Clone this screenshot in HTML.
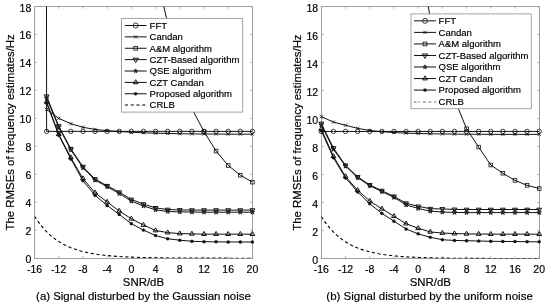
<!DOCTYPE html>
<html><head><meta charset="utf-8"><title>RMSE vs SNR</title>
<style>
html,body{margin:0;padding:0;background:#fff;width:550px;height:307px;overflow:hidden}
svg{display:block}
text{font-family:"Liberation Sans",Arial,Helvetica,sans-serif;fill:#000;stroke:#000;stroke-width:0.18px}
.tk{font-size:10.5px}
.lg{font-size:9.5px}
.al{font-size:11.4px}
</style></head><body>
<svg width="550" height="307" viewBox="0 0 550 307">
<rect width="550" height="307" fill="#fff"/>
<clipPath id="clipL"><rect x="34.5" y="6.5" width="217.9" height="251.7"/></clipPath>
<rect x="34.5" y="6.5" width="218.00" height="252.00" fill="none" stroke="#a0a0a0" stroke-width="1"/><path d="M34.50,258.5v-2.2M34.50,6.5v2.2M58.71,258.5v-2.2M58.71,6.5v2.2M82.92,258.5v-2.2M82.92,6.5v2.2M107.13,258.5v-2.2M107.13,6.5v2.2M131.34,258.5v-2.2M131.34,6.5v2.2M155.56,258.5v-2.2M155.56,6.5v2.2M179.77,258.5v-2.2M179.77,6.5v2.2M203.98,258.5v-2.2M203.98,6.5v2.2M228.19,258.5v-2.2M228.19,6.5v2.2M252.40,258.5v-2.2M252.40,6.5v2.2M34.5,258.20h2.2M252.5,258.20h-2.2M34.5,230.23h2.2M252.5,230.23h-2.2M34.5,202.27h2.2M252.5,202.27h-2.2M34.5,174.30h2.2M252.5,174.30h-2.2M34.5,146.33h2.2M252.5,146.33h-2.2M34.5,118.37h2.2M252.5,118.37h-2.2M34.5,90.40h2.2M252.5,90.40h-2.2M34.5,62.43h2.2M252.5,62.43h-2.2M34.5,34.47h2.2M252.5,34.47h-2.2M34.5,6.50h2.2M252.5,6.50h-2.2" stroke="#a0a0a0" stroke-width="0.9" fill="none"/>
<g clip-path="url(#clipL)"><polyline points="34.50,216.25 37.53,220.81 40.55,224.88 43.58,228.50 46.61,231.73 49.63,234.61 52.66,237.18 55.68,239.46 58.71,241.50 61.74,243.32 64.76,244.93 67.79,246.38 70.82,247.66 73.84,248.81 76.87,249.83 79.90,250.74 82.92,251.55 85.95,252.27 88.97,252.92 92.00,253.49 95.03,254.00 98.05,254.46 101.08,254.87 104.11,255.23 107.13,255.55 110.16,255.84 113.19,256.10 116.21,256.33 119.24,256.53 122.27,256.71 125.29,256.87 128.32,257.02 131.34,257.15 134.37,257.26 137.40,257.36 140.42,257.45 143.45,257.54 146.48,257.61 149.50,257.67 152.53,257.73 155.56,257.78 158.58,257.83 161.61,257.87 164.63,257.90 167.66,257.94 170.69,257.96 173.71,257.99 176.74,258.01 179.77,258.03 182.79,258.05 185.82,258.07 188.85,258.08 191.87,258.09 194.90,258.11 197.93,258.12 200.95,258.13 203.98,258.13 207.00,258.14 210.03,258.15 213.06,258.15 216.08,258.16 219.11,258.16 222.14,258.17 225.16,258.17 228.19,258.17 231.22,258.18 234.24,258.18 237.27,258.18 240.29,258.18 243.32,258.19 246.35,258.19 249.37,258.19 252.40,258.19" fill="none" stroke="#000" stroke-width="1.1" stroke-dasharray="3.2,2.6"/><polyline points="34.50,-13725.13 46.61,131.37 58.71,131.37 70.82,131.37 82.92,131.37 95.03,131.37 107.13,131.37 119.24,131.37 131.34,131.37 143.45,131.37 155.56,131.37 167.66,131.37 179.77,131.37 191.87,131.37 203.98,131.37 216.08,131.37 228.19,131.37 240.29,131.37 252.40,131.37" fill="none" stroke="#111" stroke-width="1.0"/><polyline points="46.61,109.42 58.71,118.37 70.82,123.68 82.92,127.32 95.03,129.41 107.13,130.67 119.24,131.51 131.34,132.21 143.45,132.77 155.56,133.19 167.66,133.47 179.77,133.75 191.87,133.89 203.98,134.03 216.08,134.03 228.19,134.17 240.29,134.17 252.40,134.17" fill="none" stroke="#111" stroke-width="1.0"/><polyline points="143.45,-105.37 155.56,-29.86 167.66,23.28 179.77,69.43 191.87,108.58 203.98,131.51 216.08,151.09 228.19,165.49 240.29,175.14 252.40,182.13" fill="none" stroke="#111" stroke-width="1.0"/><polyline points="46.61,96.27 58.71,126.06 70.82,148.71 82.92,166.61 95.03,179.05 107.13,185.77 119.24,192.20 131.34,199.47 143.45,204.08 155.56,207.86 167.66,209.54 179.77,209.96 191.87,210.10 203.98,210.10 216.08,210.10 228.19,210.10 240.29,210.10 252.40,210.10" fill="none" stroke="#111" stroke-width="1.0"/><polyline points="46.61,98.09 58.71,127.04 70.82,149.83 82.92,167.73 95.03,180.03 107.13,186.75 119.24,193.60 131.34,201.15 143.45,205.90 155.56,209.82 167.66,211.50 179.77,211.92 191.87,212.06 203.98,212.19 216.08,212.19 228.19,212.19 240.29,212.19 252.40,212.19" fill="none" stroke="#111" stroke-width="1.0"/><polyline points="46.61,101.87 58.71,134.17 70.82,157.52 82.92,178.50 95.03,192.76 107.13,201.99 119.24,210.94 131.34,218.77 143.45,225.06 155.56,230.51 167.66,232.61 179.77,233.59 191.87,233.87 203.98,234.15 216.08,234.15 228.19,234.15 240.29,234.15 252.40,234.15" fill="none" stroke="#111" stroke-width="1.0"/><polyline points="46.61,102.98 58.71,135.15 70.82,158.92 82.92,180.73 95.03,195.28 107.13,205.48 119.24,214.43 131.34,223.66 143.45,230.09 155.56,235.55 167.66,238.76 179.77,240.16 191.87,241.28 203.98,241.70 216.08,241.84 228.19,241.98 240.29,241.98 252.40,241.98" fill="none" stroke="#111" stroke-width="1.0"/></g>
<circle cx="46.61" cy="131.37" r="2.20" fill="none" stroke="#111" stroke-width="0.8"/><circle cx="58.71" cy="131.37" r="2.20" fill="none" stroke="#111" stroke-width="0.8"/><circle cx="70.82" cy="131.37" r="2.20" fill="none" stroke="#111" stroke-width="0.8"/><circle cx="82.92" cy="131.37" r="2.20" fill="none" stroke="#111" stroke-width="0.8"/><circle cx="95.03" cy="131.37" r="2.20" fill="none" stroke="#111" stroke-width="0.8"/><circle cx="107.13" cy="131.37" r="2.20" fill="none" stroke="#111" stroke-width="0.8"/><circle cx="119.24" cy="131.37" r="2.20" fill="none" stroke="#111" stroke-width="0.8"/><circle cx="131.34" cy="131.37" r="2.20" fill="none" stroke="#111" stroke-width="0.8"/><circle cx="143.45" cy="131.37" r="2.20" fill="none" stroke="#111" stroke-width="0.8"/><circle cx="155.56" cy="131.37" r="2.20" fill="none" stroke="#111" stroke-width="0.8"/><circle cx="167.66" cy="131.37" r="2.20" fill="none" stroke="#111" stroke-width="0.8"/><circle cx="179.77" cy="131.37" r="2.20" fill="none" stroke="#111" stroke-width="0.8"/><circle cx="191.87" cy="131.37" r="2.20" fill="none" stroke="#111" stroke-width="0.8"/><circle cx="203.98" cy="131.37" r="2.20" fill="none" stroke="#111" stroke-width="0.8"/><circle cx="216.08" cy="131.37" r="2.20" fill="none" stroke="#111" stroke-width="0.8"/><circle cx="228.19" cy="131.37" r="2.20" fill="none" stroke="#111" stroke-width="0.8"/><circle cx="240.29" cy="131.37" r="2.20" fill="none" stroke="#111" stroke-width="0.8"/><circle cx="252.40" cy="131.37" r="2.20" fill="none" stroke="#111" stroke-width="0.8"/><path d="M45.01,107.82L48.21,111.02M45.01,111.02L48.21,107.82" stroke="#111" stroke-width="0.8" fill="none"/><path d="M57.11,116.77L60.31,119.97M57.11,119.97L60.31,116.77" stroke="#111" stroke-width="0.8" fill="none"/><path d="M69.22,122.08L72.42,125.28M69.22,125.28L72.42,122.08" stroke="#111" stroke-width="0.8" fill="none"/><path d="M81.32,125.72L84.52,128.92M81.32,128.92L84.52,125.72" stroke="#111" stroke-width="0.8" fill="none"/><path d="M93.43,127.81L96.63,131.01M93.43,131.01L96.63,127.81" stroke="#111" stroke-width="0.8" fill="none"/><path d="M105.53,129.07L108.73,132.27M105.53,132.27L108.73,129.07" stroke="#111" stroke-width="0.8" fill="none"/><path d="M117.64,129.91L120.84,133.11M117.64,133.11L120.84,129.91" stroke="#111" stroke-width="0.8" fill="none"/><path d="M129.74,130.61L132.94,133.81M129.74,133.81L132.94,130.61" stroke="#111" stroke-width="0.8" fill="none"/><path d="M141.85,131.17L145.05,134.37M141.85,134.37L145.05,131.17" stroke="#111" stroke-width="0.8" fill="none"/><path d="M153.96,131.59L157.16,134.79M153.96,134.79L157.16,131.59" stroke="#111" stroke-width="0.8" fill="none"/><path d="M166.06,131.87L169.26,135.07M166.06,135.07L169.26,131.87" stroke="#111" stroke-width="0.8" fill="none"/><path d="M178.17,132.15L181.37,135.35M178.17,135.35L181.37,132.15" stroke="#111" stroke-width="0.8" fill="none"/><path d="M190.27,132.29L193.47,135.49M190.27,135.49L193.47,132.29" stroke="#111" stroke-width="0.8" fill="none"/><path d="M202.38,132.43L205.58,135.63M202.38,135.63L205.58,132.43" stroke="#111" stroke-width="0.8" fill="none"/><path d="M214.48,132.43L217.68,135.63M214.48,135.63L217.68,132.43" stroke="#111" stroke-width="0.8" fill="none"/><path d="M226.59,132.57L229.79,135.77M226.59,135.77L229.79,132.57" stroke="#111" stroke-width="0.8" fill="none"/><path d="M238.69,132.57L241.89,135.77M238.69,135.77L241.89,132.57" stroke="#111" stroke-width="0.8" fill="none"/><path d="M250.80,132.57L254.00,135.77M250.80,135.77L254.00,132.57" stroke="#111" stroke-width="0.8" fill="none"/><rect x="165.86" y="21.48" width="3.60" height="3.60" fill="none" stroke="#111" stroke-width="0.8"/><rect x="177.97" y="67.63" width="3.60" height="3.60" fill="none" stroke="#111" stroke-width="0.8"/><rect x="190.07" y="106.78" width="3.60" height="3.60" fill="none" stroke="#111" stroke-width="0.8"/><rect x="202.18" y="129.71" width="3.60" height="3.60" fill="none" stroke="#111" stroke-width="0.8"/><rect x="214.28" y="149.29" width="3.60" height="3.60" fill="none" stroke="#111" stroke-width="0.8"/><rect x="226.39" y="163.69" width="3.60" height="3.60" fill="none" stroke="#111" stroke-width="0.8"/><rect x="238.49" y="173.34" width="3.60" height="3.60" fill="none" stroke="#111" stroke-width="0.8"/><rect x="250.60" y="180.33" width="3.60" height="3.60" fill="none" stroke="#111" stroke-width="0.8"/><path d="M44.21,94.94L49.01,94.94L46.61,98.94Z" fill="none" stroke="#111" stroke-width="1.0"/><path d="M56.31,124.72L61.11,124.72L58.71,128.72Z" fill="none" stroke="#111" stroke-width="1.0"/><path d="M68.42,147.38L73.22,147.38L70.82,151.38Z" fill="none" stroke="#111" stroke-width="1.0"/><path d="M80.52,165.28L85.32,165.28L82.92,169.28Z" fill="none" stroke="#111" stroke-width="1.0"/><path d="M92.63,177.72L97.43,177.72L95.03,181.72Z" fill="none" stroke="#111" stroke-width="1.0"/><path d="M104.73,184.43L109.53,184.43L107.13,188.43Z" fill="none" stroke="#111" stroke-width="1.0"/><path d="M116.84,190.87L121.64,190.87L119.24,194.87Z" fill="none" stroke="#111" stroke-width="1.0"/><path d="M128.94,198.14L133.74,198.14L131.34,202.14Z" fill="none" stroke="#111" stroke-width="1.0"/><path d="M141.05,202.75L145.85,202.75L143.45,206.75Z" fill="none" stroke="#111" stroke-width="1.0"/><path d="M153.16,206.53L157.96,206.53L155.56,210.53Z" fill="none" stroke="#111" stroke-width="1.0"/><path d="M165.26,208.20L170.06,208.20L167.66,212.20Z" fill="none" stroke="#111" stroke-width="1.0"/><path d="M177.37,208.62L182.17,208.62L179.77,212.62Z" fill="none" stroke="#111" stroke-width="1.0"/><path d="M189.47,208.76L194.27,208.76L191.87,212.76Z" fill="none" stroke="#111" stroke-width="1.0"/><path d="M201.58,208.76L206.38,208.76L203.98,212.76Z" fill="none" stroke="#111" stroke-width="1.0"/><path d="M213.68,208.76L218.48,208.76L216.08,212.76Z" fill="none" stroke="#111" stroke-width="1.0"/><path d="M225.79,208.76L230.59,208.76L228.19,212.76Z" fill="none" stroke="#111" stroke-width="1.0"/><path d="M237.89,208.76L242.69,208.76L240.29,212.76Z" fill="none" stroke="#111" stroke-width="1.0"/><path d="M250.00,208.76L254.80,208.76L252.40,212.76Z" fill="none" stroke="#111" stroke-width="1.0"/><polygon points="46.61,95.59 47.25,97.20 48.98,97.32 47.65,98.43 48.08,100.11 46.61,99.19 45.14,100.11 45.56,98.43 44.23,97.32 45.96,97.20" fill="#333" stroke="#111" stroke-width="0.6"/><polygon points="58.71,124.54 59.36,126.15 61.09,126.26 59.76,127.38 60.18,129.06 58.71,128.14 57.24,129.06 57.66,127.38 56.33,126.26 58.06,126.15" fill="#333" stroke="#111" stroke-width="0.6"/><polygon points="70.82,147.33 71.46,148.94 73.19,149.06 71.86,150.17 72.29,151.85 70.82,150.93 69.35,151.85 69.77,150.17 68.44,149.06 70.17,148.94" fill="#333" stroke="#111" stroke-width="0.6"/><polygon points="82.92,165.23 83.57,166.84 85.30,166.96 83.97,168.07 84.39,169.75 82.92,168.83 81.45,169.75 81.88,168.07 80.54,166.96 82.28,166.84" fill="#333" stroke="#111" stroke-width="0.6"/><polygon points="95.03,177.53 95.67,179.14 97.41,179.26 96.07,180.37 96.50,182.06 95.03,181.13 93.56,182.06 93.98,180.37 92.65,179.26 94.38,179.14" fill="#333" stroke="#111" stroke-width="0.6"/><polygon points="107.13,184.25 107.78,185.86 109.51,185.97 108.18,187.09 108.60,188.77 107.13,187.85 105.66,188.77 106.09,187.09 104.76,185.97 106.49,185.86" fill="#333" stroke="#111" stroke-width="0.6"/><polygon points="119.24,191.10 119.89,192.71 121.62,192.82 120.29,193.94 120.71,195.62 119.24,194.70 117.77,195.62 118.19,193.94 116.86,192.82 118.59,192.71" fill="#333" stroke="#111" stroke-width="0.6"/><polygon points="131.34,198.65 131.99,200.26 133.72,200.38 132.39,201.49 132.81,203.17 131.34,202.25 129.87,203.17 130.30,201.49 128.97,200.38 130.70,200.26" fill="#333" stroke="#111" stroke-width="0.6"/><polygon points="143.45,203.40 144.10,205.01 145.83,205.13 144.50,206.24 144.92,207.92 143.45,207.00 141.98,207.92 142.40,206.24 141.07,205.13 142.80,205.01" fill="#333" stroke="#111" stroke-width="0.6"/><polygon points="155.56,207.32 156.20,208.93 157.93,209.05 156.60,210.16 157.03,211.84 155.56,210.92 154.09,211.84 154.51,210.16 153.18,209.05 154.91,208.93" fill="#333" stroke="#111" stroke-width="0.6"/><polygon points="167.66,209.00 168.31,210.61 170.04,210.72 168.71,211.84 169.13,213.52 167.66,212.60 166.19,213.52 166.61,211.84 165.28,210.72 167.01,210.61" fill="#333" stroke="#111" stroke-width="0.6"/><polygon points="179.77,209.42 180.41,211.03 182.14,211.14 180.81,212.26 181.24,213.94 179.77,213.02 178.30,213.94 178.72,212.26 177.39,211.14 179.12,211.03" fill="#333" stroke="#111" stroke-width="0.6"/><polygon points="191.87,209.56 192.52,211.17 194.25,211.28 192.92,212.39 193.34,214.08 191.87,213.16 190.40,214.08 190.83,212.39 189.49,211.28 191.23,211.17" fill="#333" stroke="#111" stroke-width="0.6"/><polygon points="203.98,209.69 204.62,211.30 206.36,211.42 205.02,212.53 205.45,214.22 203.98,213.29 202.51,214.22 202.93,212.53 201.60,211.42 203.33,211.30" fill="#333" stroke="#111" stroke-width="0.6"/><polygon points="216.08,209.69 216.73,211.30 218.46,211.42 217.13,212.53 217.55,214.22 216.08,213.29 214.61,214.22 215.04,212.53 213.71,211.42 215.44,211.30" fill="#333" stroke="#111" stroke-width="0.6"/><polygon points="228.19,209.69 228.84,211.30 230.57,211.42 229.24,212.53 229.66,214.22 228.19,213.29 226.72,214.22 227.14,212.53 225.81,211.42 227.54,211.30" fill="#333" stroke="#111" stroke-width="0.6"/><polygon points="240.29,209.69 240.94,211.30 242.67,211.42 241.34,212.53 241.76,214.22 240.29,213.29 238.82,214.22 239.25,212.53 237.92,211.42 239.65,211.30" fill="#333" stroke="#111" stroke-width="0.6"/><polygon points="252.40,209.69 253.05,211.30 254.78,211.42 253.45,212.53 253.87,214.22 252.40,213.29 250.93,214.22 251.35,212.53 250.02,211.42 251.75,211.30" fill="#333" stroke="#111" stroke-width="0.6"/><path d="M44.21,103.20L49.01,103.20L46.61,99.20Z" fill="none" stroke="#111" stroke-width="1.0"/><path d="M56.31,135.50L61.11,135.50L58.71,131.50Z" fill="none" stroke="#111" stroke-width="1.0"/><path d="M68.42,158.85L73.22,158.85L70.82,154.85Z" fill="none" stroke="#111" stroke-width="1.0"/><path d="M80.52,179.83L85.32,179.83L82.92,175.83Z" fill="none" stroke="#111" stroke-width="1.0"/><path d="M92.63,194.09L97.43,194.09L95.03,190.09Z" fill="none" stroke="#111" stroke-width="1.0"/><path d="M104.73,203.32L109.53,203.32L107.13,199.32Z" fill="none" stroke="#111" stroke-width="1.0"/><path d="M116.84,212.27L121.64,212.27L119.24,208.27Z" fill="none" stroke="#111" stroke-width="1.0"/><path d="M128.94,220.10L133.74,220.10L131.34,216.10Z" fill="none" stroke="#111" stroke-width="1.0"/><path d="M141.05,226.39L145.85,226.39L143.45,222.39Z" fill="none" stroke="#111" stroke-width="1.0"/><path d="M153.16,231.85L157.96,231.85L155.56,227.85Z" fill="none" stroke="#111" stroke-width="1.0"/><path d="M165.26,233.94L170.06,233.94L167.66,229.94Z" fill="none" stroke="#111" stroke-width="1.0"/><path d="M177.37,234.92L182.17,234.92L179.77,230.92Z" fill="none" stroke="#111" stroke-width="1.0"/><path d="M189.47,235.20L194.27,235.20L191.87,231.20Z" fill="none" stroke="#111" stroke-width="1.0"/><path d="M201.58,235.48L206.38,235.48L203.98,231.48Z" fill="none" stroke="#111" stroke-width="1.0"/><path d="M213.68,235.48L218.48,235.48L216.08,231.48Z" fill="none" stroke="#111" stroke-width="1.0"/><path d="M225.79,235.48L230.59,235.48L228.19,231.48Z" fill="none" stroke="#111" stroke-width="1.0"/><path d="M237.89,235.48L242.69,235.48L240.29,231.48Z" fill="none" stroke="#111" stroke-width="1.0"/><path d="M250.00,235.48L254.80,235.48L252.40,231.48Z" fill="none" stroke="#111" stroke-width="1.0"/><circle cx="46.61" cy="102.98" r="1.50" fill="#111"/><path d="M46.61,101.18V104.78M44.81,102.98H48.41M45.35,101.72L47.87,104.24M45.35,104.24L47.87,101.72" stroke="#111" stroke-width="0.6" fill="none"/><circle cx="58.71" cy="135.15" r="1.50" fill="#111"/><path d="M58.71,133.35V136.95M56.91,135.15H60.51M57.45,133.89L59.97,136.41M57.45,136.41L59.97,133.89" stroke="#111" stroke-width="0.6" fill="none"/><circle cx="70.82" cy="158.92" r="1.50" fill="#111"/><path d="M70.82,157.12V160.72M69.02,158.92H72.62M69.56,157.66L72.08,160.18M69.56,160.18L72.08,157.66" stroke="#111" stroke-width="0.6" fill="none"/><circle cx="82.92" cy="180.73" r="1.50" fill="#111"/><path d="M82.92,178.93V182.53M81.12,180.73H84.72M81.66,179.47L84.18,181.99M81.66,181.99L84.18,179.47" stroke="#111" stroke-width="0.6" fill="none"/><circle cx="95.03" cy="195.28" r="1.50" fill="#111"/><path d="M95.03,193.47V197.08M93.23,195.28H96.83M93.77,194.02L96.29,196.53M93.77,196.53L96.29,194.02" stroke="#111" stroke-width="0.6" fill="none"/><circle cx="107.13" cy="205.48" r="1.50" fill="#111"/><path d="M107.13,203.68V207.28M105.33,205.48H108.93M105.87,204.22L108.39,206.74M105.87,206.74L108.39,204.22" stroke="#111" stroke-width="0.6" fill="none"/><circle cx="119.24" cy="214.43" r="1.50" fill="#111"/><path d="M119.24,212.63V216.23M117.44,214.43H121.04M117.98,213.17L120.50,215.69M117.98,215.69L120.50,213.17" stroke="#111" stroke-width="0.6" fill="none"/><circle cx="131.34" cy="223.66" r="1.50" fill="#111"/><path d="M131.34,221.86V225.46M129.54,223.66H133.14M130.08,222.40L132.60,224.92M130.08,224.92L132.60,222.40" stroke="#111" stroke-width="0.6" fill="none"/><circle cx="143.45" cy="230.09" r="1.50" fill="#111"/><path d="M143.45,228.29V231.89M141.65,230.09H145.25M142.19,228.83L144.71,231.35M142.19,231.35L144.71,228.83" stroke="#111" stroke-width="0.6" fill="none"/><circle cx="155.56" cy="235.55" r="1.50" fill="#111"/><path d="M155.56,233.75V237.35M153.76,235.55H157.36M154.30,234.29L156.82,236.81M154.30,236.81L156.82,234.29" stroke="#111" stroke-width="0.6" fill="none"/><circle cx="167.66" cy="238.76" r="1.50" fill="#111"/><path d="M167.66,236.96V240.56M165.86,238.76H169.46M166.40,237.50L168.92,240.02M166.40,240.02L168.92,237.50" stroke="#111" stroke-width="0.6" fill="none"/><circle cx="179.77" cy="240.16" r="1.50" fill="#111"/><path d="M179.77,238.36V241.96M177.97,240.16H181.57M178.51,238.90L181.03,241.42M178.51,241.42L181.03,238.90" stroke="#111" stroke-width="0.6" fill="none"/><circle cx="191.87" cy="241.28" r="1.50" fill="#111"/><path d="M191.87,239.48V243.08M190.07,241.28H193.67M190.61,240.02L193.13,242.54M190.61,242.54L193.13,240.02" stroke="#111" stroke-width="0.6" fill="none"/><circle cx="203.98" cy="241.70" r="1.50" fill="#111"/><path d="M203.98,239.90V243.50M202.18,241.70H205.78M202.72,240.44L205.24,242.96M202.72,242.96L205.24,240.44" stroke="#111" stroke-width="0.6" fill="none"/><circle cx="216.08" cy="241.84" r="1.50" fill="#111"/><path d="M216.08,240.04V243.64M214.28,241.84H217.88M214.82,240.58L217.34,243.10M214.82,243.10L217.34,240.58" stroke="#111" stroke-width="0.6" fill="none"/><circle cx="228.19" cy="241.98" r="1.50" fill="#111"/><path d="M228.19,240.18V243.78M226.39,241.98H229.99M226.93,240.72L229.45,243.24M226.93,243.24L229.45,240.72" stroke="#111" stroke-width="0.6" fill="none"/><circle cx="240.29" cy="241.98" r="1.50" fill="#111"/><path d="M240.29,240.18V243.78M238.49,241.98H242.09M239.03,240.72L241.55,243.24M239.03,243.24L241.55,240.72" stroke="#111" stroke-width="0.6" fill="none"/><circle cx="252.40" cy="241.98" r="1.50" fill="#111"/><path d="M252.40,240.18V243.78M250.60,241.98H254.20M251.14,240.72L253.66,243.24M251.14,243.24L253.66,240.72" stroke="#111" stroke-width="0.6" fill="none"/>
<rect x="121.5" y="18.4" width="121.20" height="93.70" fill="#fff" stroke="#9a9a9a" stroke-width="0.9"/><path d="M124.8,25.50H146.6" stroke="#111" stroke-width="1.0"/><circle cx="135.70" cy="25.50" r="2.53" fill="none" stroke="#111" stroke-width="0.8"/><text x="149.6" y="28.80" class="lg">FFT</text><path d="M124.8,36.88H146.6" stroke="#111" stroke-width="1.0"/><path d="M134.10,35.28L137.30,38.48M134.10,38.48L137.30,35.28" stroke="#111" stroke-width="0.8" fill="none"/><text x="149.6" y="40.18" class="lg">Candan</text><path d="M124.8,48.26H146.6" stroke="#111" stroke-width="1.0"/><rect x="133.81" y="46.37" width="3.78" height="3.78" fill="none" stroke="#111" stroke-width="0.8"/><text x="149.6" y="51.56" class="lg">A&amp;M algorithm</text><path d="M124.8,59.64H146.6" stroke="#111" stroke-width="1.0"/><path d="M133.06,58.17L138.34,58.17L135.70,62.57Z" fill="none" stroke="#111" stroke-width="1.0"/><text x="149.6" y="62.94" class="lg">CZT-Based algorithm</text><path d="M124.8,71.02H146.6" stroke="#111" stroke-width="1.0"/><polygon points="135.70,68.77 136.28,70.22 137.84,70.32 136.64,71.33 137.02,72.84 135.70,72.01 134.38,72.84 134.76,71.33 133.56,70.32 135.12,70.22" fill="#333" stroke="#111" stroke-width="0.6"/><text x="149.6" y="74.32" class="lg">QSE algorithm</text><path d="M124.8,82.40H146.6" stroke="#111" stroke-width="1.0"/><path d="M133.30,83.73L138.10,83.73L135.70,79.73Z" fill="none" stroke="#111" stroke-width="1.0"/><text x="149.6" y="85.70" class="lg">CZT Candan</text><path d="M124.8,93.78H146.6" stroke="#111" stroke-width="1.0"/><circle cx="135.70" cy="93.78" r="1.50" fill="#111"/><path d="M135.70,91.98V95.58M133.90,93.78H137.50M134.44,92.52L136.96,95.04M134.44,95.04L136.96,92.52" stroke="#111" stroke-width="0.6" fill="none"/><text x="149.6" y="97.08" class="lg">Proposed algorithm</text><path d="M124.8,105.00H146.6" stroke="#000" stroke-width="1.0" stroke-dasharray="3.2,2.6"/><text x="149.6" y="108.30" class="lg">CRLB</text>
<text x="34.50" y="272.5" class="tk" text-anchor="middle">-16</text><text x="58.71" y="272.5" class="tk" text-anchor="middle">-12</text><text x="82.92" y="272.5" class="tk" text-anchor="middle">-8</text><text x="107.13" y="272.5" class="tk" text-anchor="middle">-4</text><text x="131.34" y="272.5" class="tk" text-anchor="middle">0</text><text x="155.56" y="272.5" class="tk" text-anchor="middle">4</text><text x="179.77" y="272.5" class="tk" text-anchor="middle">8</text><text x="203.98" y="272.5" class="tk" text-anchor="middle">12</text><text x="228.19" y="272.5" class="tk" text-anchor="middle">16</text><text x="252.40" y="272.5" class="tk" text-anchor="middle">20</text><text x="31.30" y="263.20" class="tk" text-anchor="end">0</text><text x="31.30" y="235.23" class="tk" text-anchor="end">2</text><text x="31.30" y="207.27" class="tk" text-anchor="end">4</text><text x="31.30" y="179.30" class="tk" text-anchor="end">6</text><text x="31.30" y="151.33" class="tk" text-anchor="end">8</text><text x="31.30" y="123.37" class="tk" text-anchor="end">10</text><text x="31.30" y="95.40" class="tk" text-anchor="end">12</text><text x="31.30" y="67.43" class="tk" text-anchor="end">14</text><text x="31.30" y="39.47" class="tk" text-anchor="end">16</text><text x="31.30" y="11.50" class="tk" text-anchor="end">18</text>
<text x="143.45" y="285.8" class="al" text-anchor="middle">SNR/dB</text>
<text transform="translate(14.3,132.35) rotate(-90)" class="al" text-anchor="middle">The RMSEs of frequency estimates/Hz</text>
<text x="143.45" y="299.9" class="al" text-anchor="middle" style="font-size:11.4px">(a) Signal disturbed by the Gaussian noise</text>
<clipPath id="clipR"><rect x="321.3" y="6.6" width="217.90000000000003" height="251.9"/></clipPath>
<rect x="321.5" y="6.5" width="218.00" height="252.00" fill="none" stroke="#a0a0a0" stroke-width="1"/><path d="M321.30,258.5v-2.2M321.30,6.5v2.2M345.51,258.5v-2.2M345.51,6.5v2.2M369.72,258.5v-2.2M369.72,6.5v2.2M393.93,258.5v-2.2M393.93,6.5v2.2M418.14,258.5v-2.2M418.14,6.5v2.2M442.36,258.5v-2.2M442.36,6.5v2.2M466.57,258.5v-2.2M466.57,6.5v2.2M490.78,258.5v-2.2M490.78,6.5v2.2M514.99,258.5v-2.2M514.99,6.5v2.2M539.20,258.5v-2.2M539.20,6.5v2.2M321.5,258.50h2.2M539.5,258.50h-2.2M321.5,230.51h2.2M539.5,230.51h-2.2M321.5,202.52h2.2M539.5,202.52h-2.2M321.5,174.53h2.2M539.5,174.53h-2.2M321.5,146.54h2.2M539.5,146.54h-2.2M321.5,118.56h2.2M539.5,118.56h-2.2M321.5,90.57h2.2M539.5,90.57h-2.2M321.5,62.58h2.2M539.5,62.58h-2.2M321.5,34.59h2.2M539.5,34.59h-2.2M321.5,6.60h2.2M539.5,6.60h-2.2" stroke="#a0a0a0" stroke-width="0.9" fill="none"/>
<g clip-path="url(#clipR)"><polyline points="321.30,216.52 324.33,221.08 327.35,225.15 330.38,228.78 333.41,232.01 336.43,234.89 339.46,237.46 342.48,239.75 345.51,241.79 348.54,243.60 351.56,245.22 354.59,246.67 357.62,247.95 360.64,249.10 363.67,250.12 366.70,251.03 369.72,251.85 372.75,252.57 375.78,253.21 378.80,253.79 381.83,254.30 384.85,254.76 387.88,255.17 390.91,255.53 393.93,255.85 396.96,256.14 399.99,256.40 403.01,256.62 406.04,256.83 409.07,257.01 412.09,257.17 415.12,257.32 418.14,257.45 421.17,257.56 424.20,257.66 427.22,257.75 430.25,257.83 433.28,257.91 436.30,257.97 439.33,258.03 442.36,258.08 445.38,258.13 448.41,258.17 451.43,258.20 454.46,258.24 457.49,258.26 460.51,258.29 463.54,258.31 466.57,258.33 469.59,258.35 472.62,258.37 475.65,258.38 478.67,258.39 481.70,258.41 484.73,258.42 487.75,258.43 490.78,258.43 493.80,258.44 496.83,258.45 499.86,258.45 502.88,258.46 505.91,258.46 508.94,258.47 511.96,258.47 514.99,258.47 518.02,258.48 521.04,258.48 524.07,258.48 527.09,258.48 530.12,258.49 533.15,258.49 536.17,258.49 539.20,258.49" fill="none" stroke="#000" stroke-width="1.1" stroke-dasharray="3.2,2.6"/><polyline points="321.30,131.43 333.41,131.43 345.51,131.43 357.62,131.43 369.72,131.43 381.83,131.43 393.93,131.43 406.04,131.43 418.14,131.43 430.25,131.43 442.36,131.43 454.46,131.43 466.57,131.43 478.67,131.43 490.78,131.43 502.88,131.43 514.99,131.43 527.09,131.43 539.20,131.43" fill="none" stroke="#111" stroke-width="1.0"/><polyline points="321.30,116.60 333.41,122.05 345.51,125.27 357.62,128.35 369.72,130.45 381.83,131.71 393.93,132.55 406.04,133.11 418.14,133.53 430.25,133.81 442.36,133.95 454.46,134.09 466.57,134.23 478.67,134.23 490.78,134.37 502.88,134.37 514.99,134.37 527.09,134.37 539.20,134.37" fill="none" stroke="#111" stroke-width="1.0"/><polyline points="418.14,-49.38 430.25,17.80 442.36,59.78 454.46,98.96 466.57,128.77 478.67,147.10 490.78,165.02 502.88,173.27 514.99,180.41 527.09,185.31 539.20,188.53" fill="none" stroke="#111" stroke-width="1.0"/><polyline points="321.30,123.45 333.41,147.94 345.51,165.30 357.62,176.77 369.72,184.89 381.83,190.63 393.93,196.36 406.04,203.22 418.14,206.30 430.25,208.68 442.36,208.96 454.46,209.38 466.57,209.52 478.67,209.52 490.78,209.52 502.88,209.52 514.99,209.52 527.09,209.52 539.20,209.52" fill="none" stroke="#111" stroke-width="1.0"/><polyline points="321.30,124.85 333.41,149.34 345.51,166.14 357.62,177.61 369.72,185.73 381.83,191.61 393.93,197.34 406.04,204.90 418.14,208.40 430.25,211.20 442.36,212.04 454.46,212.46 466.57,212.60 478.67,212.60 490.78,212.60 502.88,212.60 514.99,212.60 527.09,212.60 539.20,212.60" fill="none" stroke="#111" stroke-width="1.0"/><polyline points="321.30,129.05 333.41,156.34 345.51,176.49 357.62,190.21 369.72,200.84 381.83,208.82 393.93,216.24 406.04,223.65 418.14,228.27 430.25,231.91 442.36,233.03 454.46,233.59 466.57,233.87 478.67,234.01 490.78,234.15 502.88,234.15 514.99,234.15 527.09,234.15 539.20,234.15" fill="none" stroke="#111" stroke-width="1.0"/><polyline points="321.30,130.87 333.41,157.74 345.51,177.89 357.62,191.89 369.72,203.78 381.83,213.30 393.93,221.13 406.04,228.97 418.14,233.87 430.25,237.23 442.36,239.75 454.46,240.45 466.57,240.73 478.67,241.01 490.78,241.29 502.88,241.43 514.99,241.57 527.09,241.71 539.20,241.85" fill="none" stroke="#111" stroke-width="1.0"/></g>
<circle cx="321.30" cy="131.43" r="2.20" fill="none" stroke="#111" stroke-width="0.8"/><circle cx="333.41" cy="131.43" r="2.20" fill="none" stroke="#111" stroke-width="0.8"/><circle cx="345.51" cy="131.43" r="2.20" fill="none" stroke="#111" stroke-width="0.8"/><circle cx="357.62" cy="131.43" r="2.20" fill="none" stroke="#111" stroke-width="0.8"/><circle cx="369.72" cy="131.43" r="2.20" fill="none" stroke="#111" stroke-width="0.8"/><circle cx="381.83" cy="131.43" r="2.20" fill="none" stroke="#111" stroke-width="0.8"/><circle cx="393.93" cy="131.43" r="2.20" fill="none" stroke="#111" stroke-width="0.8"/><circle cx="406.04" cy="131.43" r="2.20" fill="none" stroke="#111" stroke-width="0.8"/><circle cx="418.14" cy="131.43" r="2.20" fill="none" stroke="#111" stroke-width="0.8"/><circle cx="430.25" cy="131.43" r="2.20" fill="none" stroke="#111" stroke-width="0.8"/><circle cx="442.36" cy="131.43" r="2.20" fill="none" stroke="#111" stroke-width="0.8"/><circle cx="454.46" cy="131.43" r="2.20" fill="none" stroke="#111" stroke-width="0.8"/><circle cx="466.57" cy="131.43" r="2.20" fill="none" stroke="#111" stroke-width="0.8"/><circle cx="478.67" cy="131.43" r="2.20" fill="none" stroke="#111" stroke-width="0.8"/><circle cx="490.78" cy="131.43" r="2.20" fill="none" stroke="#111" stroke-width="0.8"/><circle cx="502.88" cy="131.43" r="2.20" fill="none" stroke="#111" stroke-width="0.8"/><circle cx="514.99" cy="131.43" r="2.20" fill="none" stroke="#111" stroke-width="0.8"/><circle cx="527.09" cy="131.43" r="2.20" fill="none" stroke="#111" stroke-width="0.8"/><circle cx="539.20" cy="131.43" r="2.20" fill="none" stroke="#111" stroke-width="0.8"/><path d="M319.70,115.00L322.90,118.20M319.70,118.20L322.90,115.00" stroke="#111" stroke-width="0.8" fill="none"/><path d="M331.81,120.45L335.01,123.65M331.81,123.65L335.01,120.45" stroke="#111" stroke-width="0.8" fill="none"/><path d="M343.91,123.67L347.11,126.87M343.91,126.87L347.11,123.67" stroke="#111" stroke-width="0.8" fill="none"/><path d="M356.02,126.75L359.22,129.95M356.02,129.95L359.22,126.75" stroke="#111" stroke-width="0.8" fill="none"/><path d="M368.12,128.85L371.32,132.05M368.12,132.05L371.32,128.85" stroke="#111" stroke-width="0.8" fill="none"/><path d="M380.23,130.11L383.43,133.31M380.23,133.31L383.43,130.11" stroke="#111" stroke-width="0.8" fill="none"/><path d="M392.33,130.95L395.53,134.15M392.33,134.15L395.53,130.95" stroke="#111" stroke-width="0.8" fill="none"/><path d="M404.44,131.51L407.64,134.71M404.44,134.71L407.64,131.51" stroke="#111" stroke-width="0.8" fill="none"/><path d="M416.54,131.93L419.74,135.13M416.54,135.13L419.74,131.93" stroke="#111" stroke-width="0.8" fill="none"/><path d="M428.65,132.21L431.85,135.41M428.65,135.41L431.85,132.21" stroke="#111" stroke-width="0.8" fill="none"/><path d="M440.76,132.35L443.96,135.55M440.76,135.55L443.96,132.35" stroke="#111" stroke-width="0.8" fill="none"/><path d="M452.86,132.49L456.06,135.69M452.86,135.69L456.06,132.49" stroke="#111" stroke-width="0.8" fill="none"/><path d="M464.97,132.63L468.17,135.83M464.97,135.83L468.17,132.63" stroke="#111" stroke-width="0.8" fill="none"/><path d="M477.07,132.63L480.27,135.83M477.07,135.83L480.27,132.63" stroke="#111" stroke-width="0.8" fill="none"/><path d="M489.18,132.77L492.38,135.97M489.18,135.97L492.38,132.77" stroke="#111" stroke-width="0.8" fill="none"/><path d="M501.28,132.77L504.48,135.97M501.28,135.97L504.48,132.77" stroke="#111" stroke-width="0.8" fill="none"/><path d="M513.39,132.77L516.59,135.97M513.39,135.97L516.59,132.77" stroke="#111" stroke-width="0.8" fill="none"/><path d="M525.49,132.77L528.69,135.97M525.49,135.97L528.69,132.77" stroke="#111" stroke-width="0.8" fill="none"/><path d="M537.60,132.77L540.80,135.97M537.60,135.97L540.80,132.77" stroke="#111" stroke-width="0.8" fill="none"/><rect x="428.45" y="16.00" width="3.60" height="3.60" fill="none" stroke="#111" stroke-width="0.8"/><rect x="440.56" y="57.98" width="3.60" height="3.60" fill="none" stroke="#111" stroke-width="0.8"/><rect x="452.66" y="97.16" width="3.60" height="3.60" fill="none" stroke="#111" stroke-width="0.8"/><rect x="464.77" y="126.97" width="3.60" height="3.60" fill="none" stroke="#111" stroke-width="0.8"/><rect x="476.87" y="145.30" width="3.60" height="3.60" fill="none" stroke="#111" stroke-width="0.8"/><rect x="488.98" y="163.22" width="3.60" height="3.60" fill="none" stroke="#111" stroke-width="0.8"/><rect x="501.08" y="171.47" width="3.60" height="3.60" fill="none" stroke="#111" stroke-width="0.8"/><rect x="513.19" y="178.61" width="3.60" height="3.60" fill="none" stroke="#111" stroke-width="0.8"/><rect x="525.29" y="183.51" width="3.60" height="3.60" fill="none" stroke="#111" stroke-width="0.8"/><rect x="537.40" y="186.73" width="3.60" height="3.60" fill="none" stroke="#111" stroke-width="0.8"/><path d="M318.90,122.12L323.70,122.12L321.30,126.12Z" fill="none" stroke="#111" stroke-width="1.0"/><path d="M331.01,146.61L335.81,146.61L333.41,150.61Z" fill="none" stroke="#111" stroke-width="1.0"/><path d="M343.11,163.96L347.91,163.96L345.51,167.96Z" fill="none" stroke="#111" stroke-width="1.0"/><path d="M355.22,175.44L360.02,175.44L357.62,179.44Z" fill="none" stroke="#111" stroke-width="1.0"/><path d="M367.32,183.56L372.12,183.56L369.72,187.56Z" fill="none" stroke="#111" stroke-width="1.0"/><path d="M379.43,189.29L384.23,189.29L381.83,193.29Z" fill="none" stroke="#111" stroke-width="1.0"/><path d="M391.53,195.03L396.33,195.03L393.93,199.03Z" fill="none" stroke="#111" stroke-width="1.0"/><path d="M403.64,201.89L408.44,201.89L406.04,205.89Z" fill="none" stroke="#111" stroke-width="1.0"/><path d="M415.74,204.97L420.54,204.97L418.14,208.97Z" fill="none" stroke="#111" stroke-width="1.0"/><path d="M427.85,207.35L432.65,207.35L430.25,211.35Z" fill="none" stroke="#111" stroke-width="1.0"/><path d="M439.96,207.63L444.76,207.63L442.36,211.63Z" fill="none" stroke="#111" stroke-width="1.0"/><path d="M452.06,208.05L456.86,208.05L454.46,212.05Z" fill="none" stroke="#111" stroke-width="1.0"/><path d="M464.17,208.19L468.97,208.19L466.57,212.19Z" fill="none" stroke="#111" stroke-width="1.0"/><path d="M476.27,208.19L481.07,208.19L478.67,212.19Z" fill="none" stroke="#111" stroke-width="1.0"/><path d="M488.38,208.19L493.18,208.19L490.78,212.19Z" fill="none" stroke="#111" stroke-width="1.0"/><path d="M500.48,208.19L505.28,208.19L502.88,212.19Z" fill="none" stroke="#111" stroke-width="1.0"/><path d="M512.59,208.19L517.39,208.19L514.99,212.19Z" fill="none" stroke="#111" stroke-width="1.0"/><path d="M524.69,208.19L529.49,208.19L527.09,212.19Z" fill="none" stroke="#111" stroke-width="1.0"/><path d="M536.80,208.19L541.60,208.19L539.20,212.19Z" fill="none" stroke="#111" stroke-width="1.0"/><polygon points="321.30,122.35 321.95,123.96 323.68,124.08 322.35,125.19 322.77,126.88 321.30,125.95 319.83,126.88 320.25,125.19 318.92,124.08 320.65,123.96" fill="#333" stroke="#111" stroke-width="0.6"/><polygon points="333.41,146.84 334.05,148.45 335.78,148.57 334.45,149.68 334.88,151.37 333.41,150.44 331.94,151.37 332.36,149.68 331.03,148.57 332.76,148.45" fill="#333" stroke="#111" stroke-width="0.6"/><polygon points="345.51,163.64 346.16,165.25 347.89,165.36 346.56,166.48 346.98,168.16 345.51,167.24 344.04,168.16 344.46,166.48 343.13,165.36 344.86,165.25" fill="#333" stroke="#111" stroke-width="0.6"/><polygon points="357.62,175.11 358.26,176.72 359.99,176.84 358.66,177.95 359.09,179.63 357.62,178.71 356.15,179.63 356.57,177.95 355.24,176.84 356.97,176.72" fill="#333" stroke="#111" stroke-width="0.6"/><polygon points="369.72,183.23 370.37,184.84 372.10,184.96 370.77,186.07 371.19,187.75 369.72,186.83 368.25,187.75 368.68,186.07 367.34,184.96 369.08,184.84" fill="#333" stroke="#111" stroke-width="0.6"/><polygon points="381.83,189.11 382.47,190.72 384.21,190.83 382.87,191.95 383.30,193.63 381.83,192.71 380.36,193.63 380.78,191.95 379.45,190.83 381.18,190.72" fill="#333" stroke="#111" stroke-width="0.6"/><polygon points="393.93,194.84 394.58,196.45 396.31,196.57 394.98,197.68 395.40,199.37 393.93,198.44 392.46,199.37 392.89,197.68 391.56,196.57 393.29,196.45" fill="#333" stroke="#111" stroke-width="0.6"/><polygon points="406.04,202.40 406.69,204.01 408.42,204.13 407.09,205.24 407.51,206.92 406.04,206.00 404.57,206.92 404.99,205.24 403.66,204.13 405.39,204.01" fill="#333" stroke="#111" stroke-width="0.6"/><polygon points="418.14,205.90 418.79,207.51 420.52,207.63 419.19,208.74 419.61,210.42 418.14,209.50 416.67,210.42 417.10,208.74 415.77,207.63 417.50,207.51" fill="#333" stroke="#111" stroke-width="0.6"/><polygon points="430.25,208.70 430.90,210.31 432.63,210.43 431.30,211.54 431.72,213.22 430.25,212.30 428.78,213.22 429.20,211.54 427.87,210.43 429.60,210.31" fill="#333" stroke="#111" stroke-width="0.6"/><polygon points="442.36,209.54 443.00,211.15 444.73,211.27 443.40,212.38 443.83,214.06 442.36,213.14 440.89,214.06 441.31,212.38 439.98,211.27 441.71,211.15" fill="#333" stroke="#111" stroke-width="0.6"/><polygon points="454.46,209.96 455.11,211.57 456.84,211.69 455.51,212.80 455.93,214.48 454.46,213.56 452.99,214.48 453.41,212.80 452.08,211.69 453.81,211.57" fill="#333" stroke="#111" stroke-width="0.6"/><polygon points="466.57,210.10 467.21,211.71 468.94,211.83 467.61,212.94 468.04,214.62 466.57,213.70 465.10,214.62 465.52,212.94 464.19,211.83 465.92,211.71" fill="#333" stroke="#111" stroke-width="0.6"/><polygon points="478.67,210.10 479.32,211.71 481.05,211.83 479.72,212.94 480.14,214.62 478.67,213.70 477.20,214.62 477.63,212.94 476.29,211.83 478.03,211.71" fill="#333" stroke="#111" stroke-width="0.6"/><polygon points="490.78,210.10 491.42,211.71 493.16,211.83 491.82,212.94 492.25,214.62 490.78,213.70 489.31,214.62 489.73,212.94 488.40,211.83 490.13,211.71" fill="#333" stroke="#111" stroke-width="0.6"/><polygon points="502.88,210.10 503.53,211.71 505.26,211.83 503.93,212.94 504.35,214.62 502.88,213.70 501.41,214.62 501.84,212.94 500.51,211.83 502.24,211.71" fill="#333" stroke="#111" stroke-width="0.6"/><polygon points="514.99,210.10 515.64,211.71 517.37,211.83 516.04,212.94 516.46,214.62 514.99,213.70 513.52,214.62 513.94,212.94 512.61,211.83 514.34,211.71" fill="#333" stroke="#111" stroke-width="0.6"/><polygon points="527.09,210.10 527.74,211.71 529.47,211.83 528.14,212.94 528.56,214.62 527.09,213.70 525.62,214.62 526.05,212.94 524.72,211.83 526.45,211.71" fill="#333" stroke="#111" stroke-width="0.6"/><polygon points="539.20,210.10 539.85,211.71 541.58,211.83 540.25,212.94 540.67,214.62 539.20,213.70 537.73,214.62 538.15,212.94 536.82,211.83 538.55,211.71" fill="#333" stroke="#111" stroke-width="0.6"/><path d="M318.90,130.38L323.70,130.38L321.30,126.38Z" fill="none" stroke="#111" stroke-width="1.0"/><path d="M331.01,157.67L335.81,157.67L333.41,153.67Z" fill="none" stroke="#111" stroke-width="1.0"/><path d="M343.11,177.83L347.91,177.83L345.51,173.83Z" fill="none" stroke="#111" stroke-width="1.0"/><path d="M355.22,191.54L360.02,191.54L357.62,187.54Z" fill="none" stroke="#111" stroke-width="1.0"/><path d="M367.32,202.18L372.12,202.18L369.72,198.18Z" fill="none" stroke="#111" stroke-width="1.0"/><path d="M379.43,210.15L384.23,210.15L381.83,206.15Z" fill="none" stroke="#111" stroke-width="1.0"/><path d="M391.53,217.57L396.33,217.57L393.93,213.57Z" fill="none" stroke="#111" stroke-width="1.0"/><path d="M403.64,224.99L408.44,224.99L406.04,220.99Z" fill="none" stroke="#111" stroke-width="1.0"/><path d="M415.74,229.61L420.54,229.61L418.14,225.61Z" fill="none" stroke="#111" stroke-width="1.0"/><path d="M427.85,233.24L432.65,233.24L430.25,229.24Z" fill="none" stroke="#111" stroke-width="1.0"/><path d="M439.96,234.36L444.76,234.36L442.36,230.36Z" fill="none" stroke="#111" stroke-width="1.0"/><path d="M452.06,234.92L456.86,234.92L454.46,230.92Z" fill="none" stroke="#111" stroke-width="1.0"/><path d="M464.17,235.20L468.97,235.20L466.57,231.20Z" fill="none" stroke="#111" stroke-width="1.0"/><path d="M476.27,235.34L481.07,235.34L478.67,231.34Z" fill="none" stroke="#111" stroke-width="1.0"/><path d="M488.38,235.48L493.18,235.48L490.78,231.48Z" fill="none" stroke="#111" stroke-width="1.0"/><path d="M500.48,235.48L505.28,235.48L502.88,231.48Z" fill="none" stroke="#111" stroke-width="1.0"/><path d="M512.59,235.48L517.39,235.48L514.99,231.48Z" fill="none" stroke="#111" stroke-width="1.0"/><path d="M524.69,235.48L529.49,235.48L527.09,231.48Z" fill="none" stroke="#111" stroke-width="1.0"/><path d="M536.80,235.48L541.60,235.48L539.20,231.48Z" fill="none" stroke="#111" stroke-width="1.0"/><circle cx="321.30" cy="130.87" r="1.50" fill="#111"/><path d="M321.30,129.07V132.67M319.50,130.87H323.10M320.04,129.61L322.56,132.13M320.04,132.13L322.56,129.61" stroke="#111" stroke-width="0.6" fill="none"/><circle cx="333.41" cy="157.74" r="1.50" fill="#111"/><path d="M333.41,155.94V159.54M331.61,157.74H335.21M332.15,156.48L334.67,159.00M332.15,159.00L334.67,156.48" stroke="#111" stroke-width="0.6" fill="none"/><circle cx="345.51" cy="177.89" r="1.50" fill="#111"/><path d="M345.51,176.09V179.69M343.71,177.89H347.31M344.25,176.63L346.77,179.15M344.25,179.15L346.77,176.63" stroke="#111" stroke-width="0.6" fill="none"/><circle cx="357.62" cy="191.89" r="1.50" fill="#111"/><path d="M357.62,190.09V193.69M355.82,191.89H359.42M356.36,190.63L358.88,193.15M356.36,193.15L358.88,190.63" stroke="#111" stroke-width="0.6" fill="none"/><circle cx="369.72" cy="203.78" r="1.50" fill="#111"/><path d="M369.72,201.98V205.58M367.92,203.78H371.52M368.46,202.52L370.98,205.04M368.46,205.04L370.98,202.52" stroke="#111" stroke-width="0.6" fill="none"/><circle cx="381.83" cy="213.30" r="1.50" fill="#111"/><path d="M381.83,211.50V215.10M380.03,213.30H383.63M380.57,212.04L383.09,214.56M380.57,214.56L383.09,212.04" stroke="#111" stroke-width="0.6" fill="none"/><circle cx="393.93" cy="221.13" r="1.50" fill="#111"/><path d="M393.93,219.33V222.93M392.13,221.13H395.73M392.67,219.87L395.19,222.39M392.67,222.39L395.19,219.87" stroke="#111" stroke-width="0.6" fill="none"/><circle cx="406.04" cy="228.97" r="1.50" fill="#111"/><path d="M406.04,227.17V230.77M404.24,228.97H407.84M404.78,227.71L407.30,230.23M404.78,230.23L407.30,227.71" stroke="#111" stroke-width="0.6" fill="none"/><circle cx="418.14" cy="233.87" r="1.50" fill="#111"/><path d="M418.14,232.07V235.67M416.34,233.87H419.94M416.88,232.61L419.40,235.13M416.88,235.13L419.40,232.61" stroke="#111" stroke-width="0.6" fill="none"/><circle cx="430.25" cy="237.23" r="1.50" fill="#111"/><path d="M430.25,235.43V239.03M428.45,237.23H432.05M428.99,235.97L431.51,238.49M428.99,238.49L431.51,235.97" stroke="#111" stroke-width="0.6" fill="none"/><circle cx="442.36" cy="239.75" r="1.50" fill="#111"/><path d="M442.36,237.95V241.55M440.56,239.75H444.16M441.10,238.49L443.62,241.01M441.10,241.01L443.62,238.49" stroke="#111" stroke-width="0.6" fill="none"/><circle cx="454.46" cy="240.45" r="1.50" fill="#111"/><path d="M454.46,238.65V242.25M452.66,240.45H456.26M453.20,239.19L455.72,241.71M453.20,241.71L455.72,239.19" stroke="#111" stroke-width="0.6" fill="none"/><circle cx="466.57" cy="240.73" r="1.50" fill="#111"/><path d="M466.57,238.93V242.53M464.77,240.73H468.37M465.31,239.47L467.83,241.99M465.31,241.99L467.83,239.47" stroke="#111" stroke-width="0.6" fill="none"/><circle cx="478.67" cy="241.01" r="1.50" fill="#111"/><path d="M478.67,239.21V242.81M476.87,241.01H480.47M477.41,239.75L479.93,242.27M477.41,242.27L479.93,239.75" stroke="#111" stroke-width="0.6" fill="none"/><circle cx="490.78" cy="241.29" r="1.50" fill="#111"/><path d="M490.78,239.49V243.09M488.98,241.29H492.58M489.52,240.03L492.04,242.55M489.52,242.55L492.04,240.03" stroke="#111" stroke-width="0.6" fill="none"/><circle cx="502.88" cy="241.43" r="1.50" fill="#111"/><path d="M502.88,239.63V243.23M501.08,241.43H504.68M501.62,240.17L504.14,242.69M501.62,242.69L504.14,240.17" stroke="#111" stroke-width="0.6" fill="none"/><circle cx="514.99" cy="241.57" r="1.50" fill="#111"/><path d="M514.99,239.77V243.37M513.19,241.57H516.79M513.73,240.31L516.25,242.83M513.73,242.83L516.25,240.31" stroke="#111" stroke-width="0.6" fill="none"/><circle cx="527.09" cy="241.71" r="1.50" fill="#111"/><path d="M527.09,239.91V243.51M525.29,241.71H528.89M525.83,240.45L528.35,242.97M525.83,242.97L528.35,240.45" stroke="#111" stroke-width="0.6" fill="none"/><circle cx="539.20" cy="241.85" r="1.50" fill="#111"/><path d="M539.20,240.05V243.65M537.40,241.85H541.00M537.94,240.59L540.46,243.11M537.94,243.11L540.46,240.59" stroke="#111" stroke-width="0.6" fill="none"/>
<rect x="411.0" y="13.9" width="120.30" height="94.80" fill="#fff" stroke="#9a9a9a" stroke-width="0.9"/><path d="M414.0,20.85H436.0" stroke="#111" stroke-width="1.0"/><circle cx="425.00" cy="20.85" r="2.53" fill="none" stroke="#111" stroke-width="0.8"/><text x="438.6" y="24.15" class="lg">FFT</text><path d="M414.0,32.39H436.0" stroke="#111" stroke-width="1.0"/><path d="M423.40,30.79L426.60,33.99M423.40,33.99L426.60,30.79" stroke="#111" stroke-width="0.8" fill="none"/><text x="438.6" y="35.69" class="lg">Candan</text><path d="M414.0,43.93H436.0" stroke="#111" stroke-width="1.0"/><rect x="423.11" y="42.04" width="3.78" height="3.78" fill="none" stroke="#111" stroke-width="0.8"/><text x="438.6" y="47.23" class="lg">A&amp;M algorithm</text><path d="M414.0,55.47H436.0" stroke="#111" stroke-width="1.0"/><path d="M422.36,54.00L427.64,54.00L425.00,58.40Z" fill="none" stroke="#111" stroke-width="1.0"/><text x="438.6" y="58.77" class="lg">CZT-Based algorithm</text><path d="M414.0,67.01H436.0" stroke="#111" stroke-width="1.0"/><polygon points="425.00,64.76 425.58,66.21 427.14,66.31 425.94,67.32 426.32,68.83 425.00,68.00 423.68,68.83 424.06,67.32 422.86,66.31 424.42,66.21" fill="#333" stroke="#111" stroke-width="0.6"/><text x="438.6" y="70.31" class="lg">QSE algorithm</text><path d="M414.0,78.55H436.0" stroke="#111" stroke-width="1.0"/><path d="M422.60,79.88L427.40,79.88L425.00,75.88Z" fill="none" stroke="#111" stroke-width="1.0"/><text x="438.6" y="81.85" class="lg">CZT Candan</text><path d="M414.0,90.09H436.0" stroke="#111" stroke-width="1.0"/><circle cx="425.00" cy="90.09" r="1.50" fill="#111"/><path d="M425.00,88.29V91.89M423.20,90.09H426.80M423.74,88.83L426.26,91.35M423.74,91.35L426.26,88.83" stroke="#111" stroke-width="0.6" fill="none"/><text x="438.6" y="93.39" class="lg">Proposed algorithm</text><path d="M413.9,102.00H416.7M418.4,102.00H420.0M422.9,102.00H426.0M428.3,102.00H431.4M434.0,102.00H436.1" stroke="#6a6a6a" stroke-width="1.1"/><text x="438.6" y="105.30" class="lg">CRLB</text>
<text x="321.30" y="272.5" class="tk" text-anchor="middle">-16</text><text x="345.51" y="272.5" class="tk" text-anchor="middle">-12</text><text x="369.72" y="272.5" class="tk" text-anchor="middle">-8</text><text x="393.93" y="272.5" class="tk" text-anchor="middle">-4</text><text x="418.14" y="272.5" class="tk" text-anchor="middle">0</text><text x="442.36" y="272.5" class="tk" text-anchor="middle">4</text><text x="466.57" y="272.5" class="tk" text-anchor="middle">8</text><text x="490.78" y="272.5" class="tk" text-anchor="middle">12</text><text x="514.99" y="272.5" class="tk" text-anchor="middle">16</text><text x="539.20" y="272.5" class="tk" text-anchor="middle">20</text><text x="318.10" y="263.50" class="tk" text-anchor="end">0</text><text x="318.10" y="235.51" class="tk" text-anchor="end">2</text><text x="318.10" y="207.52" class="tk" text-anchor="end">4</text><text x="318.10" y="179.53" class="tk" text-anchor="end">6</text><text x="318.10" y="151.54" class="tk" text-anchor="end">8</text><text x="318.10" y="123.56" class="tk" text-anchor="end">10</text><text x="318.10" y="95.57" class="tk" text-anchor="end">12</text><text x="318.10" y="67.58" class="tk" text-anchor="end">14</text><text x="318.10" y="39.59" class="tk" text-anchor="end">16</text><text x="318.10" y="11.60" class="tk" text-anchor="end">18</text>
<text x="430.25" y="285.8" class="al" text-anchor="middle">SNR/dB</text>
<text transform="translate(301.4,132.55) rotate(-90)" class="al" text-anchor="middle">The RMSEs of frequency estimates/Hz</text>
<text x="429.60" y="299.9" class="al" text-anchor="middle" style="font-size:11.5px">(b) Signal disturbed by the uniform noise</text>
</svg>
</body></html>
